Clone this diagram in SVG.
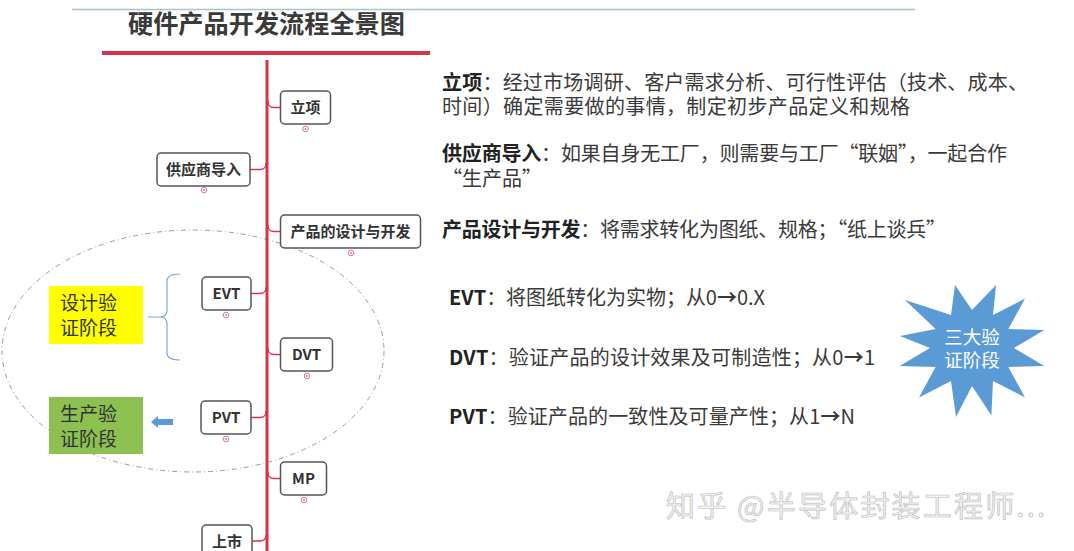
<svg xmlns="http://www.w3.org/2000/svg" width="1074" height="551" viewBox="0 0 1074 551">
  <style>
    text { font-family: "Noto Sans CJK SC", "Noto Sans", sans-serif; }
    .box { fill: #ffffff; stroke: #555555; stroke-width: 1.5; }
    .boxt { font-size: 15px; font-weight: bold; fill: #333333; text-anchor: middle; }
    .conn { fill: none; stroke: #d8334a; stroke-width: 1.3; }
    .dot { fill: #ffffff; stroke: #d46a86; stroke-width: 0.9; }
    .dotc { fill: #d46a86; }
    .desc { font-size: 20px; fill: #3a3a3a; }
    .b { font-weight: bold; fill: #222222; }
    .stage { font-size: 19px; fill: #333333; }
  </style>

  <!-- header -->
  <line x1="72" y1="9.5" x2="915" y2="9.5" stroke="#a9c3cb" stroke-width="1.5"/>
  <text x="128" y="33" font-size="25" font-weight="bold" fill="#3a3a3a" textLength="277" lengthAdjust="spacingAndGlyphs">硬件产品开发流程全景图</text>
  <line x1="102" y1="53" x2="430" y2="53" stroke="#d8334a" stroke-width="4"/>

  <!-- dashed ellipse -->
  <ellipse cx="193" cy="351" rx="191" ry="121" fill="none" stroke="#9a9a9a" stroke-width="1" stroke-dasharray="5 3 1 3"/>

  <!-- trunk and connectors -->
  <g id="connectors">
    <line x1="267" y1="60" x2="267" y2="551" stroke="#d8334a" stroke-width="3"/>
    <path class="conn" d="M268,101 Q268,107.5 274,107.5 L280,107.5"/>
    <path class="conn" d="M266,163 Q266,169.5 260,169.5 L250,169.5"/>
    <path class="conn" d="M268,225 Q268,231.5 274,231.5 L280,231.5"/>
    <path class="conn" d="M266,287 Q266,293.5 260,293.5 L251,293.5"/>
    <path class="conn" d="M268,348 Q268,354.5 274,354.5 L280,354.5"/>
    <path class="conn" d="M266,411 Q266,417.5 260,417.5 L251,417.5"/>
    <path class="conn" d="M268,472 Q268,478.5 274,478.5 L280,478.5"/>
    <path class="conn" d="M266,535 Q266,541 260,541 L252,541"/>
  </g>

  <g id="n-lixiang">
    <rect class="box" x="280.5" y="91" width="50" height="33" rx="4"/>
    <text class="boxt" x="305.5" y="113">立项</text>
    <circle class="dot" cx="305.5" cy="129" r="2.8"/><circle class="dotc" cx="305.5" cy="129" r="0.9"/>
  </g>
  <g id="n-gongying">
    <rect class="box" x="157" y="153" width="93" height="33" rx="4"/>
    <text class="boxt" x="203.5" y="175">供应商导入</text>
    <circle class="dot" cx="204" cy="190" r="2.8"/><circle class="dotc" cx="204" cy="190" r="0.9"/>
  </g>
  <g id="n-sheji">
    <rect class="box" x="280.5" y="215" width="140" height="33" rx="4"/>
    <text class="boxt" x="350.5" y="237">产品的设计与开发</text>
    <circle class="dot" cx="351" cy="253" r="2.8"/><circle class="dotc" cx="351" cy="253" r="0.9"/>
  </g>
  <g id="n-evt">
    <rect class="box" x="202" y="277" width="49" height="33" rx="4"/>
    <text class="boxt" x="226.5" y="299">EVT</text>
    <circle class="dot" cx="226" cy="315" r="2.8"/><circle class="dotc" cx="226" cy="315" r="0.9"/>
  </g>
  <g id="n-dvt">
    <rect class="box" x="280.5" y="338" width="52" height="33" rx="4"/>
    <text class="boxt" x="306.5" y="360">DVT</text>
    <circle class="dot" cx="307" cy="376" r="2.8"/><circle class="dotc" cx="307" cy="376" r="0.9"/>
  </g>
  <g id="n-pvt">
    <rect class="box" x="201" y="401" width="50" height="33" rx="4"/>
    <text class="boxt" x="226" y="423">PVT</text>
    <circle class="dot" cx="226" cy="439" r="2.8"/><circle class="dotc" cx="226" cy="439" r="0.9"/>
  </g>
  <g id="n-mp">
    <rect class="box" x="280.5" y="462" width="46" height="33" rx="4"/>
    <text class="boxt" x="303.5" y="484">MP</text>
    <circle class="dot" cx="304" cy="500" r="2.8"/><circle class="dotc" cx="304" cy="500" r="0.9"/>
  </g>
  <g id="n-shangshi">
    <rect class="box" x="202" y="525" width="50" height="33" rx="4"/>
    <text class="boxt" x="227" y="547">上市</text>
  </g>

  <!-- stage labels -->
  <g id="n-design-stage">
    <rect x="49" y="286" width="94" height="58" fill="#ffff00"/>
    <text class="stage" x="60" y="310">设计验</text>
    <text class="stage" x="60" y="335">证阶段</text>
  </g>
  <path d="M180,274 Q167,274 167,281 L167,310 Q167,317 160,317 L148,317 M160,317 Q167,317 167,324 L167,353 Q167,360 180,360" fill="none" stroke="#7fa9d6" stroke-width="1.2"/>
  <g id="n-prod-stage">
    <rect x="49" y="397" width="94" height="57" fill="#8cc152"/>
    <text class="stage" x="60" y="421">生产验</text>
    <text class="stage" x="60" y="446">证阶段</text>
  </g>
  <path d="M151,422 L158,416 L158,419 L173,419 L173,425 L158,425 L158,428 Z" fill="#5b9bd5"/>

  <!-- descriptions -->
  <g id="descriptions">
    <text class="desc" x="442" y="90" textLength="586" lengthAdjust="spacing"><tspan class="b">立项</tspan>：经过市场调研、客户需求分析、可行性评估（技术、成本、</text>
    <text class="desc" x="442" y="114" textLength="468" lengthAdjust="spacing">时间）确定需要做的事情，制定初步产品定义和规格</text>
    <text class="desc" x="442" y="161" textLength="565" lengthAdjust="spacing"><tspan class="b">供应商导入</tspan>：如果自身无工厂，则需要与工厂“联姻”，一起合作</text>
    <text class="desc" x="442" y="186">“生产品”</text>
    <text class="desc" x="442" y="237" textLength="504" lengthAdjust="spacing"><tspan class="b">产品设计与开发</tspan>：将需求转化为图纸、规格；“纸上谈兵”</text>
    <text class="desc" x="449" y="305" textLength="316" lengthAdjust="spacing"><tspan class="b">EVT</tspan>：将图纸转化为实物；从0<tspan font-weight="bold">→</tspan>0.X</text>
    <text class="desc" x="449" y="365" textLength="426" lengthAdjust="spacing"><tspan class="b">DVT</tspan>：验证产品的设计效果及可制造性；从0<tspan font-weight="bold">→</tspan>1</text>
    <text class="desc" x="449" y="424" textLength="406" lengthAdjust="spacing"><tspan class="b">PVT</tspan>：验证产品的一致性及可量产性；从1<tspan font-weight="bold">→</tspan>N</text>
  </g>

  <!-- starburst -->
  <g id="n-burst">
    <polygon fill="#5b9bd5" points="996,285 993,315.1 1025,298.5 1008.4,329 1044.4,329.9 1014,348 1044.4,366.1 1008.4,367 1025,397.5 993,380.9 991.4,415.6 972,386 956,417 951,380.9 919,397.5 935.6,367 899.6,366.1 930,348 900,336 935.6,329 905,300 951,315.1 955,285 972,310"/>
    <text x="972" y="344" font-size="18.5" fill="#ffffff" text-anchor="middle">三大验</text>
    <text x="972" y="367" font-size="18.5" fill="#ffffff" text-anchor="middle">证阶段</text>
  </g>

  <!-- watermark -->
  <text x="666" y="517" font-size="29" fill="#f3f3f3" stroke="#c0c0c0" stroke-width="0.7" textLength="379" lengthAdjust="spacing">知乎 @半导体封装工程师...</text>
</svg>
